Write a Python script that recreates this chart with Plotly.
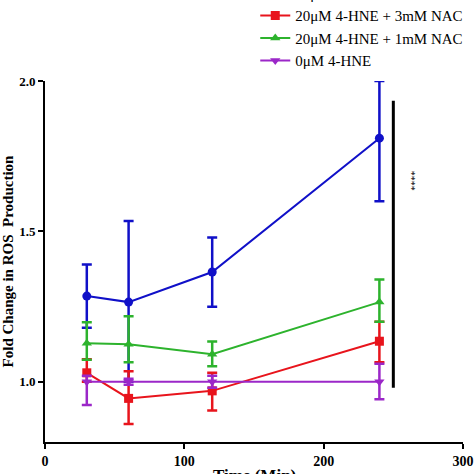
import plotly.graph_objects as go

time_min = [30, 60, 120, 240]

names = ["20μM 4-HNE", "20μM 4-HNE + 3mM NAC", "20μM 4-HNE + 1mM NAC", "0μM 4-HNE"]
hne20 = [1.285, 1.265, 1.365, 1.81]
hne20_up = [0.105, 0.27, 0.115, 0.19]
hne20_dn = [0.105, 0.265, 0.115, 0.21]

nac3 = [1.03, 0.945, 0.97, 1.135]
nac3_up = [0.045, 0.09, 0.06, 0.065]
nac3_dn = [0.03, 0.085, 0.065, 0.07]

nac1 = [1.128, 1.125, 1.092, 1.265]
nac1_up = [0.07, 0.093, 0.042, 0.075]
nac1_dn = [0.055, 0.06, 0.04, 0.065]

ctrl = [1.0, 1.0, 1.0, 1.0]
ctrl_up = [0.02, 0.01, 0.02, 0.06]
ctrl_dn = [0.077, 0.01, 0.02, 0.058]

colors = ["#1010C8", "#E8141C", "#2DB32D", "#9B27C8"]
symbols = ["circle", "square", "triangle-up", "triangle-down"]

sig_x = 250
sig_y = [0.98, 1.934]
sig_label = "****"

series = [(hne20, hne20_up, hne20_dn), (nac3, nac3_up, nac3_dn),
          (nac1, nac1_up, nac1_dn), (ctrl, ctrl_up, ctrl_dn)]

fig = go.Figure()
for name, (y, up, dn), c, s in zip(names, series, colors, symbols):
    fig.add_trace(go.Scatter(
        x=time_min, y=y, name=name, mode="lines+markers",
        line=dict(color=c, width=2),
        marker=dict(color=c, symbol=s, size=9),
        error_y=dict(type="data", array=up, arrayminus=dn, visible=True,
                     color=c, thickness=2.5, width=5),
    ))

fig.add_trace(go.Scatter(x=[sig_x, sig_x], y=sig_y, mode="lines",
                         line=dict(color="black", width=3), showlegend=False,
                         hoverinfo="skip"))
fig.add_annotation(x=sig_x + 13, y=1.667, text=sig_label, showarrow=False,
                   textangle=90, font=dict(size=10, color="black",
                                           family="Liberation Serif"))

serif = "Liberation Serif"
fig.add_annotation(x=0.5, y=-0.062, xref="paper", yref="paper",
                   xanchor="center", yanchor="top", showarrow=False,
                   text="<b>Time (Min)</b>",
                   font=dict(size=17, family=serif, color="black"))

fig.update_layout(
    width=474, height=474,
    margin=dict(l=45, r=11, t=81, b=32, autoexpand=False),
    plot_bgcolor="white", paper_bgcolor="white",
    font=dict(family=serif, color="black"),
    showlegend=True,
    legend=dict(x=0.503, y=1.289, xanchor="left", yanchor="top",
                font=dict(size=15, family=serif, color="black"),
                bgcolor="rgba(0,0,0,0)", tracegroupgap=0, itemwidth=30),
    xaxis=dict(range=[0, 300], tickvals=[0, 100, 200, 300],
               showline=True, linecolor="black", linewidth=2,
               ticks="outside", ticklen=5, tickwidth=2, tickcolor="black",
               showgrid=False, zeroline=False,
               tickfont=dict(size=14, family=serif, color="black", weight="bold")),
    yaxis=dict(range=[0.8, 2.0], tickvals=[1.0, 1.5, 2.0], ticktext=["1.0", "1.5", "2.0"],
               showline=True, linecolor="black", linewidth=2,
               ticks="outside", ticklen=5, tickwidth=2, tickcolor="black",
               showgrid=False, zeroline=False,
               tickfont=dict(size=13, family=serif, color="black", weight="bold"),
               title=dict(text="<b>Fold Change in ROS  Production</b>",
                          font=dict(size=15, family=serif), standoff=8)),
)

fig.write_html("out.html")
